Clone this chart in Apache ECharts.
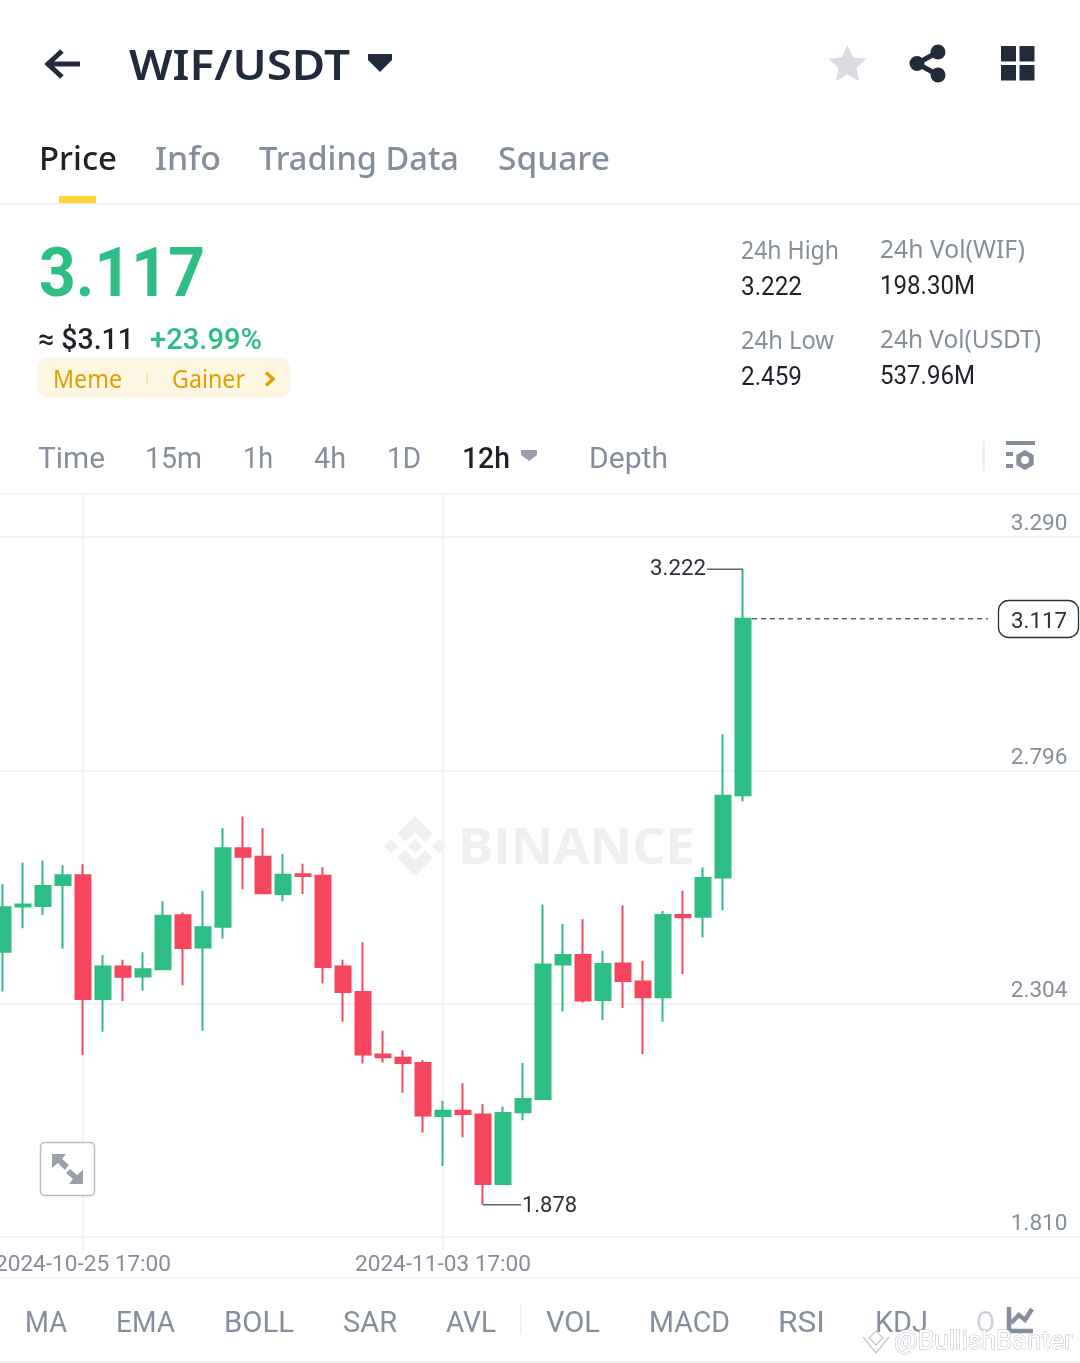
<!DOCTYPE html>
<html><head><meta charset="utf-8">
<style>html,body{margin:0;padding:0;background:#fff}#c{width:1080px;height:1363px}</style>
<script src="https://cdn.jsdelivr.net/npm/echarts@6/dist/echarts.min.js"></script>
</head><body><div id="c"></div>
<script>
const categories = ['10-23 17:00','10-24 05:00','10-24 17:00','10-25 05:00','2024-10-25 17:00','10-26 05:00','10-26 17:00','10-27 05:00','10-27 17:00','10-28 05:00','10-28 17:00','10-29 05:00','10-29 17:00','10-30 05:00','10-30 17:00','10-31 05:00','10-31 17:00','11-01 05:00','11-01 17:00','11-02 05:00','11-02 17:00','11-03 05:00','2024-11-03 17:00','11-04 05:00','11-04 17:00','11-05 05:00','11-05 17:00','11-06 05:00','11-06 17:00','11-07 05:00','11-07 17:00','11-08 05:00','11-08 17:00','11-09 05:00','11-09 17:00','11-10 05:00','11-10 17:00','11-11 05:00','f1','f2','f3','f4','f5','f6','f7','f8','f9','f10','f11','f12','f13','f14','f15','f16','f17'];
const opens  = [2.413,2.509,2.510,2.554,2.575,2.313,2.382,2.361,2.376,2.490,2.422,2.466,2.632,2.614,2.535,2.577,2.574,2.382,2.328,2.196,2.189,2.178,2.066,2.077,2.069,1.922,2.074,2.102,2.386,2.406,2.311,2.388,2.350,2.317,2.491,2.487,2.570,2.744];
const closes = [2.507,2.513,2.552,2.575,2.313,2.382,2.360,2.376,2.489,2.421,2.465,2.632,2.614,2.537,2.576,2.573,2.381,2.328,2.196,2.190,2.178,2.067,2.077,2.070,1.922,2.072,2.102,2.386,2.406,2.310,2.387,2.351,2.317,2.491,2.486,2.569,2.743,3.117];
const lows   = [2.329,2.463,2.491,2.420,2.195,2.244,2.309,2.331,2.376,2.342,2.246,2.441,2.545,2.537,2.520,2.535,2.346,2.265,2.177,2.179,2.115,2.031,1.960,2.021,1.878,1.920,2.057,2.100,2.287,2.306,2.269,2.294,2.197,2.265,2.366,2.443,2.501,2.731];
const highs  = [2.556,2.602,2.606,2.596,2.598,2.406,2.396,2.412,2.520,2.496,2.542,2.674,2.699,2.674,2.620,2.599,2.592,2.396,2.433,2.246,2.205,2.184,2.098,2.135,2.091,2.086,2.178,2.513,2.472,2.482,2.415,2.511,2.394,2.499,2.542,2.591,2.873,3.222];
const priceTicks = [1.810,2.304,2.796,3.290];
const labelledDates = ['2024-10-25 17:00','2024-11-03 17:00'];
const periodHigh = 3.222, periodLow = 1.878, lastPrice = 3.117;

const GREEN='#2EBD85', RED='#F6465D', DARK='#1E2329', NAVY='#222B3B', GREY='#848E9C', LINE='#EEF0F2';
const FONT='"Noto Sans"', NUM='Roboto';
const chart = echarts.init(document.getElementById('c'));
const mc = document.createElement('canvas').getContext('2d');

function t(s,x,y,size,w,color,weight,family,extra){
  const fam=family||FONT, wt=weight||400;
  const font=wt+' '+size+'px '+fam;
  mc.font=font;
  const sx=w? w/mc.measureText(s).width:1;
  return {type:'text',x:x,y:y,scaleX:sx,z:100,silent:true,
    style:Object.assign({text:s,font:font,fill:color,textAlign:'left',textVerticalAlign:'middle',verticalAlign:'middle'},extra||{})};
}
function poly(points,fill,z){return {type:'polygon',z:z==null?100:z,silent:true,shape:{points},style:{fill}};}
function pline(points,stroke,lw,extra){return {type:'polyline',z:100,silent:true,shape:{points},style:Object.assign({stroke,lineWidth:lw,fill:null},extra||{})};}
function rect(x,y,w,h,fill,r,extra,z){return {type:'rect',z:z==null?100:z,silent:true,shape:{x,y,width:w,height:h,r:r||0},style:Object.assign({fill},extra||{})};}
function circ(cx,cy,r,fill,extra){return {type:'circle',z:100,silent:true,shape:{cx,cy,r},style:Object.assign({fill},extra||{})};}

const option = {
  animation:false, backgroundColor:'#fff',
  grid:{left:-7,top:495,width:1100,height:755,containLabel:false,outerBoundsMode:'none'},
  xAxis:{type:'category',data:categories,boundaryGap:true,
    axisLine:{show:false},axisTick:{show:false},
    axisLabel:{interval:(i,v)=>labelledDates.includes(v),margin:4,hideOverlap:false,
      color:GREY,fontFamily:NUM,fontSize:22.6,verticalAlign:'top'},
    splitLine:{show:true,alignWithLabel:true,interval:(i,v)=>labelledDates.includes(v),lineStyle:{color:LINE,width:1.5}}},
  yAxis:{type:'value',position:'right',min:1.7825,max:3.3788,scale:true,
    axisLine:{show:false},axisTick:{show:false,customValues:priceTicks},
    axisLabel:{inside:true,margin:25.5,customValues:priceTicks,formatter:v=>v.toFixed(3),color:GREY,fontFamily:NUM,fontSize:22.6,verticalAlign:'bottom',padding:[0,0,1,0],showMinLabel:true,showMaxLabel:true},
    splitLine:{show:true,lineStyle:{color:LINE,width:1.5}}},
  series:[{type:'candlestick',barWidth:16,z:5,
    data:opens.map((o,i)=>[o,closes[i],lows[i],highs[i]]),
    itemStyle:{color:GREEN,color0:RED,borderColor:GREEN,borderColor0:RED,borderWidth:2}}]
};
chart.setOption(option);

const idxHi=highs.indexOf(periodHigh), idxLo=lows.indexOf(periodLow);
const pHi=chart.convertToPixel({seriesIndex:0},[idxHi,periodHigh]);
const pLo=chart.convertToPixel({seriesIndex:0},[idxLo,periodLow]);
const pLast=chart.convertToPixel({seriesIndex:0},[closes.length-1,lastPrice]);

const star=[];for(let i=0;i<10;i++){const r=i%2?9.5:20,a=-Math.PI/2+i*Math.PI/5;star.push([847.5+r*Math.cos(a),65+r*Math.sin(a)]);}
const hex=[];for(let i=0;i<6;i++){const a=-Math.PI/2+i*Math.PI/3;hex.push([1025+10*Math.cos(a),460+10*Math.sin(a)]);}

const g=[
 pline([[80,64],[47,64]],NAVY,5), pline([[62,51],[48,64],[62,77]],NAVY,5),
 t('WIF/USDT',129,68,42,221,NAVY,600),
 poly([[368,54],[392,54],[392,60],[380,72],[368,60]],NAVY),
 poly(star,'#D9DCE1'),
 circ(917,63.5,7.5,NAVY),circ(938,52,7.5,NAVY),circ(938,75,7.5,NAVY),
 pline([[938,52],[917,63.5],[938,75]],NAVY,5),
 rect(1001,46,15,15.5,NAVY),rect(1019.5,46,15,15.5,NAVY),rect(1001,65,15,15.5,NAVY),rect(1019.5,65,15,15.5,NAVY),
 t('Price',39,161,33,78,DARK,500),
 t('Info',155,161,33,66,GREY,500),
 t('Trading Data',259,161,33,200,GREY,500),
 t('Square',498,161,33,112,GREY,500),
 rect(59,196,37,7,'#FCD535'),
 rect(0,203,1080,1.5,LINE),
 t('3.117',39,279,69,166,GREEN,700,NUM),
 t('≈ $3.11',38,342,29,96,DARK,500,NUM),
 t('+23.99%',150,342,29,112,GREEN,500,NUM),
 rect(38,358,252,40,'#FDF6E3',10),
 t('Meme',53,381,25,69,'#DFA000',400),
 rect(146,374,2,10,'#F5E4B0'),
 t('Gainer',172,381,25,73,'#DFA000',400),
 pline([[266,372.5],[273,379],[266,385.5]],'#DFA000',3.5),
 t('24h High',741,252,25,98,GREY,400),
 t('3.222',741,289,25,61,DARK,400,NUM),
 t('24h Vol(WIF)',880,251,25,145,GREY,400),
 t('198.30M',880,288,25,95,DARK,400,NUM),
 t('24h Low',741,342,25,93,GREY,400),
 t('2.459',741,379,25,61,DARK,400,NUM),
 t('24h Vol(USDT)',880,341,25,161,GREY,400),
 t('537.96M',880,378,25,95,DARK,400,NUM),
 t('Time',38,460,30,67,GREY,400,NUM),
 t('15m',145,460,30,57,GREY,400,NUM),
 t('1h',243,460,30,30,GREY,400,NUM),
 t('4h',314,460,30,32,GREY,400,NUM),
 t('1D',387,460,30,34,GREY,400,NUM),
 t('12h',462,460,30,48,DARK,500,NUM),
 poly([[521,450],[537,450],[537,455],[529,461],[521,455]],'#9AA1AD'),
 t('Depth',589,460,30,79,GREY,400,NUM),
 rect(982,441,3,30,LINE),
 rect(1006,441,29,4,GREY),rect(1006,452,7,4,GREY),rect(1006,464,7,4,GREY),
 poly(hex,GREY),circ(1025,460,4,'#fff'),
 rect(0,493,1080,2,'#F3F4F6'),
 rect(40.5,1142.5,54,53,'#fff',4,{stroke:'#B7BDC6',lineWidth:1.5}),
 poly([[52,1154],[66,1154],[62,1159],[69,1165],[65,1170],[58,1163],[52,1168]],'#9AA1AD'),
 poly([[83,1184],[69,1184],[73,1179],[66,1173],[70,1169],[77,1175],[83,1170]],'#9AA1AD'),
 pline([[pHi[0],pHi[1]],[707,pHi[1]]],'#5E6673',1.5),
 t(periodHigh.toFixed(3),650,pHi[1],22.6,56,'#2B3139',400,NUM),
 pline([[pLo[0],pLo[1]],[521,pLo[1]]],'#5E6673',1.5),
 t(periodLow.toFixed(3),522,pLo[1]+2,22.6,55,'#2B3139',400,NUM),
 pline([[752,pLast[1]],[988,pLast[1]]],'#5E6673',1.5,{lineDash:[5,4]}),
 rect(998.5,600.5,80,37,'#fff',10,{stroke:'#2B3139',lineWidth:1.3}),
 t(lastPrice.toFixed(3),1011,622,22.6,56,'#2B3139',400,NUM),
 rect(0,1277,1080,1.5,LINE),
 t('MA',25,1325,29,42,GREY,400,NUM),
 t('EMA',116,1325,29,59,GREY,400,NUM),
 t('BOLL',224,1325,29,70,GREY,400,NUM),
 t('SAR',343,1325,29,54,GREY,400,NUM),
 t('AVL',446,1325,29,50,GREY,400,NUM),
 rect(520,1304,1.5,30,LINE),
 t('VOL',546,1325,29,54,GREY,400,NUM),
 t('MACD',649,1325,29,81,GREY,400,NUM),
 t('RSI',778,1325,29,47,GREY,400,NUM),
 t('KDJ',875,1325,29,53,GREY,400,NUM),
 t('O',976,1325,29,19,'#CDD2D9',400,NUM),
 pline([[1009,1307],[1009,1331],[1033,1331]],GREY,4.5),
 pline([[1011,1323],[1019,1315],[1025,1320],[1032,1309]],GREY,4.5),
 rect(0,1361,1080,1.5,LINE),
 t('@BullishBanter',894,1342,26,179,'#fff',400,NUM,{stroke:'#B9BDC3',lineWidth:1}),
 pline([[876,1331],[883,1338],[876,1345],[869,1338],[876,1331]],'#C4C8CD',1.2),
 pline([[863,1337],[876,1353],[889,1337]],'#C4C8CD',1.2)
];
const wm=t('BINANCE',458,850,50,237,'#EFF1F1',700,'"Open Sans"'); wm.z=1; g.push(wm);
[[[415,816],[433,834],[425,842],[415,832],[405,842],[397,834]],
 [[415,876],[433,858],[425,850],[415,860],[405,850],[397,858]],
 [[415,839],[422,846],[415,853],[408,846]],
 [[391,839],[398,846],[391,853],[384,846]],
 [[439,839],[446,846],[439,853],[432,846]]].forEach(p=>g.push(poly(p,'#EFF1F1',1)));
chart.setOption({graphic:{elements:g}});
</script></body></html>
